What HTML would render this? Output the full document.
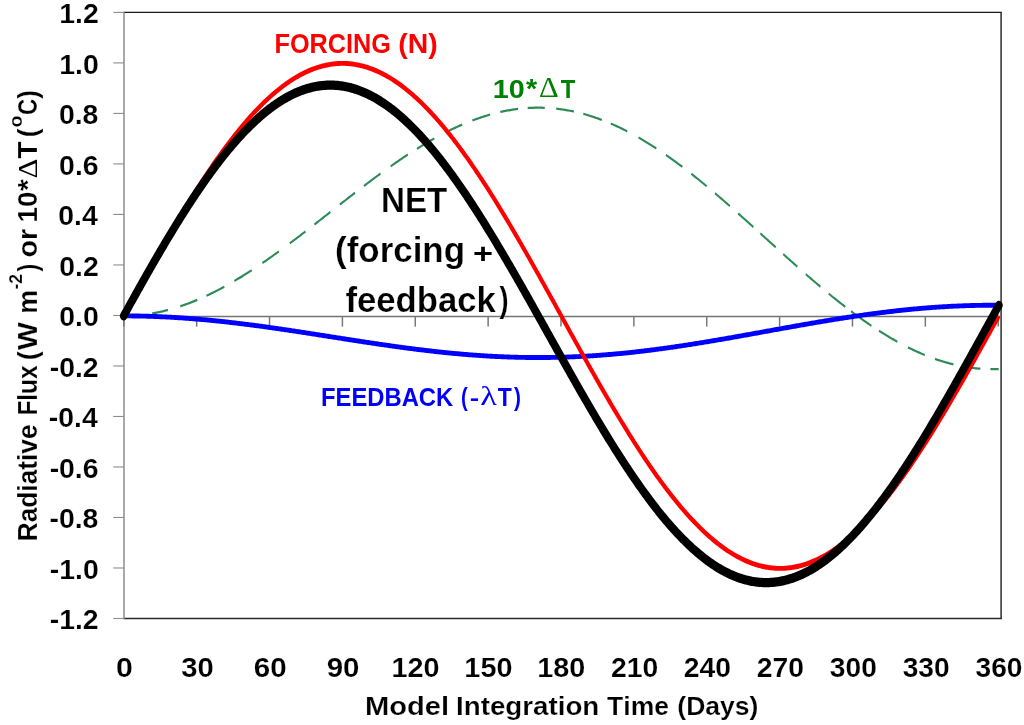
<!DOCTYPE html>
<html lang="en"><head><meta charset="utf-8"><title>Radiative Flux vs Model Integration Time</title>
<style>html,body{margin:0;padding:0;background:#fff;overflow:hidden}svg text{white-space:pre;font-kerning:none}</style></head>
<body>
<svg width="1024" height="725" viewBox="0 0 1024 725" style="display:block">
<rect width="1024" height="725" fill="#fff"/>
<line x1="123.4" y1="12.4" x2="1001.9" y2="12.4" stroke="#1a1a1a" stroke-width="1.3"/>
<line x1="1001.1" y1="12.4" x2="1001.1" y2="618.5" stroke="#3a3a3a" stroke-width="1.6"/>
<line x1="123.4" y1="618.5" x2="1001.9" y2="618.5" stroke="#2a2a2a" stroke-width="1.5"/>
<line x1="124.0" y1="12.4" x2="124.0" y2="618.5" stroke="#a0a0a0" stroke-width="1.8"/>
<line x1="113.3" y1="12.40" x2="124.0" y2="12.40" stroke="#8c8c8c" stroke-width="1.1"/>
<line x1="113.3" y1="62.91" x2="124.0" y2="62.91" stroke="#8c8c8c" stroke-width="1.1"/>
<line x1="113.3" y1="113.42" x2="124.0" y2="113.42" stroke="#8c8c8c" stroke-width="1.1"/>
<line x1="113.3" y1="163.93" x2="124.0" y2="163.93" stroke="#8c8c8c" stroke-width="1.1"/>
<line x1="113.3" y1="214.43" x2="124.0" y2="214.43" stroke="#8c8c8c" stroke-width="1.1"/>
<line x1="113.3" y1="264.94" x2="124.0" y2="264.94" stroke="#8c8c8c" stroke-width="1.1"/>
<line x1="113.3" y1="315.45" x2="124.0" y2="315.45" stroke="#8c8c8c" stroke-width="1.1"/>
<line x1="113.3" y1="365.96" x2="124.0" y2="365.96" stroke="#8c8c8c" stroke-width="1.1"/>
<line x1="113.3" y1="416.47" x2="124.0" y2="416.47" stroke="#8c8c8c" stroke-width="1.1"/>
<line x1="113.3" y1="466.98" x2="124.0" y2="466.98" stroke="#8c8c8c" stroke-width="1.1"/>
<line x1="113.3" y1="517.48" x2="124.0" y2="517.48" stroke="#8c8c8c" stroke-width="1.1"/>
<line x1="113.3" y1="567.99" x2="124.0" y2="567.99" stroke="#8c8c8c" stroke-width="1.1"/>
<line x1="113.3" y1="618.50" x2="124.0" y2="618.50" stroke="#8c8c8c" stroke-width="1.1"/>
<line x1="124.0" y1="316.5" x2="1001.1" y2="316.5" stroke="#747474" stroke-width="1.7"/>
<line x1="123.80" y1="316.5" x2="123.80" y2="326.6" stroke="#787878" stroke-width="1.5"/>
<line x1="196.67" y1="316.5" x2="196.67" y2="326.6" stroke="#787878" stroke-width="1.5"/>
<line x1="269.53" y1="316.5" x2="269.53" y2="326.6" stroke="#787878" stroke-width="1.5"/>
<line x1="342.40" y1="316.5" x2="342.40" y2="326.6" stroke="#787878" stroke-width="1.5"/>
<line x1="415.27" y1="316.5" x2="415.27" y2="326.6" stroke="#787878" stroke-width="1.5"/>
<line x1="488.13" y1="316.5" x2="488.13" y2="326.6" stroke="#787878" stroke-width="1.5"/>
<line x1="561.00" y1="316.5" x2="561.00" y2="326.6" stroke="#787878" stroke-width="1.5"/>
<line x1="633.87" y1="316.5" x2="633.87" y2="326.6" stroke="#787878" stroke-width="1.5"/>
<line x1="706.73" y1="316.5" x2="706.73" y2="326.6" stroke="#787878" stroke-width="1.5"/>
<line x1="779.60" y1="316.5" x2="779.60" y2="326.6" stroke="#787878" stroke-width="1.5"/>
<line x1="852.47" y1="316.5" x2="852.47" y2="326.6" stroke="#787878" stroke-width="1.5"/>
<line x1="925.33" y1="316.5" x2="925.33" y2="326.6" stroke="#787878" stroke-width="1.5"/>
<line x1="998.20" y1="316.5" x2="998.20" y2="326.6" stroke="#787878" stroke-width="1.5"/>
<g transform="scale(1,1.25)" fill="none" stroke-linejoin="round">
<path d="M124.50,252.72 L124.92,252.72 L126.13,252.71 L127.35,252.69 L128.56,252.66 L129.78,252.63 L130.99,252.59 L132.21,252.54 L133.42,252.49 L134.64,252.43 L135.86,252.36 L137.07,252.28 L138.29,252.20 L139.50,252.11 L140.00,252.07 M152.10,250.75 L152.87,250.64 L154.09,250.47 L155.30,250.28 L156.52,250.10 L157.74,249.90 L158.95,249.70 L160.17,249.49 L161.38,249.27 L162.60,249.05 L163.81,248.82 L165.03,248.58 L166.24,248.33 L167.46,248.08 L168.00,247.97 M180.30,245.03 L180.83,244.89 L182.05,244.56 L183.26,244.22 L184.48,243.88 L185.69,243.53 L186.91,243.17 L188.12,242.81 L189.34,242.44 L190.56,242.07 L191.77,241.69 L192.99,241.31 L194.20,240.91 L195.42,240.52 L196.63,240.11 L197.30,239.89 M206.40,236.65 L207.57,236.21 L208.79,235.75 L210.00,235.28 L211.22,234.81 L212.44,234.33 L213.65,233.84 L214.87,233.35 L216.08,232.86 L217.30,232.36 L218.51,231.85 L219.73,231.34 L220.94,230.83 L222.16,230.30 L223.38,229.78 L224.30,229.37 M234.40,224.78 L235.53,224.24 L236.75,223.66 L237.96,223.08 L239.18,222.49 L240.39,221.90 L241.61,221.30 L242.82,220.70 L244.04,220.09 L245.26,219.48 L246.47,218.87 L247.69,218.25 L248.90,217.63 L250.12,217.00 L251.33,216.37 L251.70,216.18 M262.40,210.46 L263.49,209.86 L264.70,209.19 L265.92,208.52 L267.14,207.84 L268.35,207.16 L269.57,206.48 L270.78,205.79 L272.00,205.10 L273.21,204.41 L274.43,203.71 L275.64,203.01 L276.86,202.31 L278.08,201.61 L278.90,201.13 M289.80,194.69 L290.23,194.44 L291.45,193.71 L292.66,192.97 L293.88,192.24 L295.09,191.50 L296.31,190.77 L297.52,190.03 L298.74,189.29 L299.96,188.54 L301.17,187.80 L302.39,187.05 L303.60,186.31 L304.82,185.56 L305.50,185.14 M314.40,179.62 L314.54,179.53 L315.76,178.77 L316.97,178.01 L318.19,177.25 L319.40,176.49 L320.62,175.73 L321.84,174.97 L323.05,174.21 L324.27,173.45 L325.48,172.68 L326.70,171.92 L327.91,171.16 L329.13,170.39 L330.34,169.63 L330.40,169.60 M339.80,163.70 L340.07,163.53 L341.28,162.77 L342.50,162.01 L343.72,161.25 L344.93,160.49 L346.15,159.73 L347.36,158.97 L348.58,158.22 L349.79,157.46 L351.01,156.71 L352.22,155.95 L353.44,155.20 L354.66,154.45 L355.10,154.18 M363.90,148.78 L364.38,148.49 L365.60,147.75 L366.81,147.02 L368.03,146.28 L369.24,145.55 L370.46,144.82 L371.67,144.09 L372.89,143.37 L374.10,142.64 L375.32,141.92 L376.54,141.20 L377.75,140.49 L378.97,139.77 L380.18,139.06 L380.50,138.87 M390.60,133.07 L391.12,132.77 L392.34,132.09 L393.55,131.41 L394.77,130.73 L395.98,130.06 L397.20,129.38 L398.42,128.72 L399.63,128.05 L400.85,127.39 L402.06,126.73 L403.28,126.08 L404.49,125.43 L405.71,124.78 L406.92,124.14 L407.80,123.68 M417.00,118.96 L417.86,118.53 L419.08,117.93 L420.30,117.33 L421.51,116.74 L422.73,116.15 L423.94,115.56 L425.16,114.98 L426.37,114.40 L427.59,113.83 L428.80,113.26 L430.02,112.70 L431.24,112.15 L432.45,111.59 L433.67,111.04 L434.30,110.76 M445.70,105.89 L445.82,105.84 L447.04,105.35 L448.25,104.87 L449.47,104.38 L450.68,103.91 L451.90,103.44 L453.12,102.98 L454.33,102.52 L455.55,102.06 L456.76,101.62 L457.98,101.17 L459.19,100.74 L460.41,100.31 L461.62,99.88 L462.20,99.69 M472.40,96.38 L472.56,96.33 L473.78,95.97 L475.00,95.61 L476.21,95.26 L477.43,94.91 L478.64,94.57 L479.86,94.24 L481.07,93.91 L482.29,93.59 L483.50,93.28 L484.72,92.97 L485.94,92.67 L487.15,92.38 L488.37,92.09 L489.58,91.81 L490.10,91.69 M500.30,89.61 L500.52,89.57 L501.74,89.36 L502.95,89.15 L504.17,88.95 L505.38,88.75 L506.60,88.57 L507.82,88.39 L509.03,88.21 L510.25,88.05 L511.46,87.89 L512.68,87.73 L513.89,87.59 L515.11,87.45 L516.32,87.32 L517.54,87.19 L518.10,87.14 M527.70,86.43 L528.48,86.39 L529.70,86.33 L530.91,86.29 L532.13,86.25 L533.34,86.22 L534.56,86.19 L535.77,86.17 L536.99,86.16 L538.20,86.16 L539.42,86.16 L540.64,86.17 L541.85,86.19 L543.07,86.22 L544.28,86.25 L544.80,86.26 M556.20,86.95 L556.44,86.97 L557.65,87.08 L558.87,87.20 L560.08,87.32 L561.30,87.46 L562.52,87.60 L563.73,87.74 L564.95,87.90 L566.16,88.06 L567.38,88.23 L568.59,88.40 L569.81,88.59 L571.02,88.78 L572.24,88.98 L573.46,89.18 L573.90,89.26 M583.30,91.10 L584.40,91.34 L585.61,91.61 L586.83,91.89 L588.04,92.18 L589.26,92.48 L590.47,92.78 L591.69,93.09 L592.90,93.41 L594.12,93.73 L595.34,94.06 L596.55,94.39 L597.77,94.74 L598.98,95.09 L600.20,95.45 L601.41,95.81 L601.90,95.96 M610.80,98.84 L611.14,98.96 L612.35,99.38 L613.57,99.81 L614.78,100.24 L616.00,100.69 L617.22,101.13 L618.43,101.59 L619.65,102.05 L620.86,102.52 L622.08,102.99 L623.29,103.47 L624.51,103.96 L625.72,104.45 L626.94,104.95 L627.30,105.10 M638.50,109.98 L639.10,110.26 L640.31,110.82 L641.53,111.39 L642.74,111.96 L643.96,112.54 L645.17,113.13 L646.39,113.72 L647.60,114.32 L648.82,114.92 L650.04,115.53 L651.25,116.14 L652.47,116.76 L653.68,117.38 L654.90,118.01 L656.11,118.64 L656.30,118.74 M665.90,123.93 L667.05,124.57 L668.27,125.26 L669.48,125.94 L670.70,126.64 L671.92,127.33 L673.13,128.04 L674.35,128.74 L675.56,129.45 L676.78,130.17 L677.99,130.89 L679.21,131.61 L680.42,132.34 L681.64,133.07 L682.40,133.53 M691.30,139.03 L691.36,139.07 L692.58,139.84 L693.80,140.61 L695.01,141.38 L696.23,142.16 L697.44,142.94 L698.66,143.72 L699.87,144.51 L701.09,145.30 L702.30,146.10 L703.52,146.90 L704.74,147.70 L705.95,148.50 L706.70,149.00 M715.00,154.58 L715.68,155.04 L716.89,155.87 L718.11,156.70 L719.32,157.53 L720.54,158.37 L721.75,159.21 L722.97,160.05 L724.18,160.90 L725.40,161.74 L726.62,162.59 L727.83,163.44 L729.05,164.29 L729.90,164.89 M738.20,170.76 L738.77,171.17 L739.99,172.03 L741.20,172.90 L742.42,173.77 L743.63,174.64 L744.85,175.51 L746.06,176.39 L747.28,177.26 L748.50,178.14 L749.71,179.01 L750.93,179.89 L752.14,180.77 L753.36,181.64 L753.40,181.67 M760.30,186.67 L760.65,186.92 L761.87,187.81 L763.08,188.69 L764.30,189.57 L765.51,190.45 L766.73,191.33 L767.94,192.22 L769.16,193.10 L770.38,193.98 L771.59,194.86 L772.81,195.74 L774.02,196.62 L775.24,197.50 L775.70,197.84 M783.20,203.26 L783.75,203.65 L784.96,204.52 L786.18,205.40 L787.39,206.27 L788.61,207.14 L789.82,208.01 L791.04,208.88 L792.26,209.75 L793.47,210.62 L794.69,211.48 L795.90,212.35 L797.12,213.21 L797.30,213.34 M805.80,219.32 L806.84,220.04 L808.06,220.89 L809.27,221.73 L810.49,222.57 L811.70,223.41 L812.92,224.25 L814.14,225.08 L815.35,225.92 L816.57,226.75 L817.78,227.57 L819.00,228.40 L820.21,229.22 L820.40,229.34 M828.70,234.87 L828.72,234.89 L829.94,235.69 L831.15,236.48 L832.37,237.27 L833.58,238.06 L834.80,238.85 L836.02,239.63 L837.23,240.40 L838.45,241.18 L839.66,241.95 L840.88,242.72 L842.09,243.48 L843.31,244.24 L844.52,244.99 L845.30,245.47 M851.00,248.95 L851.82,249.44 L853.03,250.17 L854.25,250.90 L855.46,251.61 L856.68,252.33 L857.90,253.04 L859.11,253.74 L860.33,254.45 L861.54,255.14 L862.76,255.83 L863.97,256.52 L865.19,257.20 L866.40,257.88 L867.62,258.56 L868.84,259.22 L870.05,259.89 L871.27,260.55 L871.50,260.67 M879.00,264.62 L879.78,265.01 L880.99,265.63 L882.21,266.24 L883.42,266.85 L884.64,267.45 L885.85,268.05 L887.07,268.64 L888.28,269.22 L889.50,269.80 L890.72,270.37 L891.93,270.94 L893.15,271.50 L894.36,272.06 L895.58,272.61 L896.79,273.16 L897.40,273.43 M908.00,277.90 L908.95,278.28 L910.16,278.75 L911.38,279.23 L912.60,279.69 L913.81,280.15 L915.03,280.60 L916.24,281.05 L917.46,281.49 L918.67,281.93 L919.89,282.35 L921.10,282.77 L922.32,283.19 L923.54,283.60 L924.75,284.00 L924.80,284.01 M935.00,287.11 L935.69,287.31 L936.91,287.64 L938.12,287.97 L939.34,288.29 L940.55,288.60 L941.77,288.91 L942.98,289.21 L944.20,289.50 L945.42,289.79 L946.63,290.07 L947.85,290.34 L949.06,290.60 L950.28,290.86 L951.49,291.11 L952.71,291.35 L953.40,291.49 M963.00,293.13 L963.65,293.22 L964.86,293.40 L966.08,293.56 L967.30,293.72 L968.51,293.87 L969.73,294.01 L970.94,294.15 L972.16,294.28 L973.37,294.40 L974.59,294.51 L975.80,294.62 L977.02,294.72 L978.24,294.81 L979.45,294.90 L980.40,294.96 M990.40,295.33 L991.61,295.35 L992.82,295.35 L994.04,295.35 L995.25,295.34 L996.47,295.32 L997.68,295.30 L998.70,295.27" stroke="#2e8b57" stroke-width="1.8"/>
<path d="M123.70,252.72 L124.92,252.72 L126.13,252.72 L127.35,252.73 L128.56,252.73 L129.78,252.74 L130.99,252.75 L132.21,252.76 L133.42,252.77 L134.64,252.78 L135.86,252.79 L137.07,252.81 L138.29,252.82 L139.50,252.84 L140.72,252.86 L141.93,252.88 L143.15,252.91 L144.36,252.93 L145.58,252.95 L146.80,252.98 L148.01,253.01 L149.23,253.04 L150.44,253.07 L151.66,253.10 L152.87,253.14 L154.09,253.17 L155.30,253.21 L156.52,253.24 L157.74,253.28 L158.95,253.32 L160.17,253.37 L161.38,253.41 L162.60,253.45 L163.81,253.50 L165.03,253.55 L166.24,253.60 L167.46,253.65 L168.68,253.70 L169.89,253.75 L171.11,253.81 L172.32,253.86 L173.54,253.92 L174.75,253.98 L175.97,254.04 L177.18,254.10 L178.40,254.16 L179.62,254.22 L180.83,254.29 L182.05,254.35 L183.26,254.42 L184.48,254.49 L185.69,254.56 L186.91,254.63 L188.12,254.70 L189.34,254.78 L190.56,254.85 L191.77,254.93 L192.99,255.00 L194.20,255.08 L195.42,255.16 L196.63,255.24 L197.85,255.32 L199.06,255.41 L200.28,255.49 L201.50,255.58 L202.71,255.66 L203.93,255.75 L205.14,255.84 L206.36,255.93 L207.57,256.02 L208.79,256.11 L210.00,256.21 L211.22,256.30 L212.44,256.40 L213.65,256.50 L214.87,256.59 L216.08,256.69 L217.30,256.79 L218.51,256.89 L219.73,257.00 L220.94,257.10 L222.16,257.20 L223.38,257.31 L224.59,257.41 L225.81,257.52 L227.02,257.63 L228.24,257.74 L229.45,257.85 L230.67,257.96 L231.88,258.07 L233.10,258.19 L234.32,258.30 L235.53,258.42 L236.75,258.53 L237.96,258.65 L239.18,258.77 L240.39,258.88 L241.61,259.00 L242.82,259.12 L244.04,259.25 L245.26,259.37 L246.47,259.49 L247.69,259.61 L248.90,259.74 L250.12,259.86 L251.33,259.99 L252.55,260.12 L253.76,260.24 L254.98,260.37 L256.20,260.50 L257.41,260.63 L258.63,260.76 L259.84,260.89 L261.06,261.03 L262.27,261.16 L263.49,261.29 L264.70,261.43 L265.92,261.56 L267.14,261.70 L268.35,261.83 L269.57,261.97 L270.78,262.11 L272.00,262.24 L273.21,262.38 L274.43,262.52 L275.64,262.66 L276.86,262.80 L278.08,262.94 L279.29,263.08 L280.51,263.23 L281.72,263.37 L282.94,263.51 L284.15,263.65 L285.37,263.80 L286.58,263.94 L287.80,264.09 L289.02,264.23 L290.23,264.38 L291.45,264.52 L292.66,264.67 L293.88,264.82 L295.09,264.96 L296.31,265.11 L297.52,265.26 L298.74,265.41 L299.96,265.56 L301.17,265.70 L302.39,265.85 L303.60,266.00 L304.82,266.15 L306.03,266.30 L307.25,266.45 L308.46,266.60 L309.68,266.75 L310.90,266.90 L312.11,267.06 L313.33,267.21 L314.54,267.36 L315.76,267.51 L316.97,267.66 L318.19,267.81 L319.40,267.97 L320.62,268.12 L321.84,268.27 L323.05,268.42 L324.27,268.57 L325.48,268.73 L326.70,268.88 L327.91,269.03 L329.13,269.19 L330.34,269.34 L331.56,269.49 L332.78,269.64 L333.99,269.80 L335.21,269.95 L336.42,270.10 L337.64,270.25 L338.85,270.41 L340.07,270.56 L341.28,270.71 L342.50,270.86 L343.72,271.01 L344.93,271.17 L346.15,271.32 L347.36,271.47 L348.58,271.62 L349.79,271.77 L351.01,271.92 L352.22,272.07 L353.44,272.22 L354.66,272.37 L355.87,272.52 L357.09,272.67 L358.30,272.82 L359.52,272.97 L360.73,273.12 L361.95,273.27 L363.16,273.42 L364.38,273.57 L365.60,273.71 L366.81,273.86 L368.03,274.01 L369.24,274.15 L370.46,274.30 L371.67,274.45 L372.89,274.59 L374.10,274.74 L375.32,274.88 L376.54,275.02 L377.75,275.17 L378.97,275.31 L380.18,275.45 L381.40,275.59 L382.61,275.74 L383.83,275.88 L385.04,276.02 L386.26,276.16 L387.48,276.30 L388.69,276.43 L389.91,276.57 L391.12,276.71 L392.34,276.85 L393.55,276.98 L394.77,277.12 L395.98,277.25 L397.20,277.39 L398.42,277.52 L399.63,277.65 L400.85,277.79 L402.06,277.92 L403.28,278.05 L404.49,278.18 L405.71,278.31 L406.92,278.44 L408.14,278.56 L409.36,278.69 L410.57,278.82 L411.79,278.94 L413.00,279.07 L414.22,279.19 L415.43,279.31 L416.65,279.44 L417.86,279.56 L419.08,279.68 L420.30,279.80 L421.51,279.92 L422.73,280.03 L423.94,280.15 L425.16,280.27 L426.37,280.38 L427.59,280.50 L428.80,280.61 L430.02,280.72 L431.24,280.83 L432.45,280.95 L433.67,281.06 L434.88,281.16 L436.10,281.27 L437.31,281.38 L438.53,281.48 L439.74,281.59 L440.96,281.69 L442.18,281.79 L443.39,281.90 L444.61,282.00 L445.82,282.10 L447.04,282.19 L448.25,282.29 L449.47,282.39 L450.68,282.48 L451.90,282.58 L453.12,282.67 L454.33,282.76 L455.55,282.85 L456.76,282.94 L457.98,283.03 L459.19,283.12 L460.41,283.20 L461.62,283.29 L462.84,283.37 L464.06,283.45 L465.27,283.53 L466.49,283.62 L467.70,283.69 L468.92,283.77 L470.13,283.85 L471.35,283.92 L472.56,284.00 L473.78,284.07 L475.00,284.14 L476.21,284.21 L477.43,284.28 L478.64,284.35 L479.86,284.42 L481.07,284.48 L482.29,284.55 L483.50,284.61 L484.72,284.67 L485.94,284.73 L487.15,284.79 L488.37,284.85 L489.58,284.90 L490.80,284.96 L492.01,285.01 L493.23,285.06 L494.44,285.11 L495.66,285.16 L496.88,285.21 L498.09,285.26 L499.31,285.31 L500.52,285.35 L501.74,285.39 L502.95,285.43 L504.17,285.47 L505.38,285.51 L506.60,285.55 L507.82,285.59 L509.03,285.62 L510.25,285.65 L511.46,285.69 L512.68,285.72 L513.89,285.75 L515.11,285.77 L516.32,285.80 L517.54,285.83 L518.76,285.85 L519.97,285.87 L521.19,285.89 L522.40,285.91 L523.62,285.93 L524.83,285.95 L526.05,285.96 L527.26,285.97 L528.48,285.99 L529.70,286.00 L530.91,286.01 L532.13,286.01 L533.34,286.02 L534.56,286.03 L535.77,286.03 L536.99,286.03 L538.20,286.03 L539.42,286.03 L540.64,286.03 L541.85,286.03 L543.07,286.02 L544.28,286.01 L545.50,286.01 L546.71,286.00 L547.93,285.99 L549.14,285.97 L550.36,285.96 L551.58,285.95 L552.79,285.93 L554.01,285.91 L555.22,285.89 L556.44,285.87 L557.65,285.85 L558.87,285.82 L560.08,285.80 L561.30,285.77 L562.52,285.74 L563.73,285.72 L564.95,285.68 L566.16,285.65 L567.38,285.62 L568.59,285.58 L569.81,285.55 L571.02,285.51 L572.24,285.47 L573.46,285.43 L574.67,285.39 L575.89,285.34 L577.10,285.30 L578.32,285.25 L579.53,285.20 L580.75,285.15 L581.96,285.10 L583.18,285.05 L584.40,285.00 L585.61,284.94 L586.83,284.89 L588.04,284.83 L589.26,284.77 L590.47,284.71 L591.69,284.65 L592.90,284.58 L594.12,284.52 L595.34,284.45 L596.55,284.39 L597.77,284.32 L598.98,284.25 L600.20,284.17 L601.41,284.10 L602.63,284.03 L603.84,283.95 L605.06,283.88 L606.28,283.80 L607.49,283.72 L608.71,283.64 L609.92,283.56 L611.14,283.47 L612.35,283.39 L613.57,283.30 L614.78,283.22 L616.00,283.13 L617.22,283.04 L618.43,282.95 L619.65,282.85 L620.86,282.76 L622.08,282.67 L623.29,282.57 L624.51,282.47 L625.72,282.37 L626.94,282.27 L628.16,282.17 L629.37,282.07 L630.59,281.97 L631.80,281.86 L633.02,281.76 L634.23,281.65 L635.45,281.54 L636.66,281.43 L637.88,281.32 L639.10,281.21 L640.31,281.10 L641.53,280.99 L642.74,280.87 L643.96,280.76 L645.17,280.64 L646.39,280.52 L647.60,280.40 L648.82,280.28 L650.04,280.16 L651.25,280.04 L652.47,279.91 L653.68,279.79 L654.90,279.66 L656.11,279.54 L657.33,279.41 L658.54,279.28 L659.76,279.15 L660.98,279.02 L662.19,278.89 L663.41,278.75 L664.62,278.62 L665.84,278.48 L667.05,278.35 L668.27,278.21 L669.48,278.08 L670.70,277.94 L671.92,277.80 L673.13,277.66 L674.35,277.52 L675.56,277.37 L676.78,277.23 L677.99,277.09 L679.21,276.94 L680.42,276.80 L681.64,276.65 L682.86,276.50 L684.07,276.35 L685.29,276.21 L686.50,276.06 L687.72,275.91 L688.93,275.75 L690.15,275.60 L691.36,275.45 L692.58,275.30 L693.80,275.14 L695.01,274.99 L696.23,274.83 L697.44,274.68 L698.66,274.52 L699.87,274.36 L701.09,274.20 L702.30,274.04 L703.52,273.88 L704.74,273.72 L705.95,273.56 L707.17,273.40 L708.38,273.24 L709.60,273.08 L710.81,272.91 L712.03,272.75 L713.24,272.59 L714.46,272.42 L715.68,272.26 L716.89,272.09 L718.11,271.92 L719.32,271.76 L720.54,271.59 L721.75,271.42 L722.97,271.25 L724.18,271.08 L725.40,270.92 L726.62,270.75 L727.83,270.58 L729.05,270.41 L730.26,270.24 L731.48,270.06 L732.69,269.89 L733.91,269.72 L735.12,269.55 L736.34,269.38 L737.56,269.20 L738.77,269.03 L739.99,268.86 L741.20,268.68 L742.42,268.51 L743.63,268.34 L744.85,268.16 L746.06,267.99 L747.28,267.81 L748.50,267.64 L749.71,267.46 L750.93,267.29 L752.14,267.11 L753.36,266.94 L754.57,266.76 L755.79,266.58 L757.00,266.41 L758.22,266.23 L759.44,266.06 L760.65,265.88 L761.87,265.70 L763.08,265.53 L764.30,265.35 L765.51,265.17 L766.73,265.00 L767.94,264.82 L769.16,264.64 L770.38,264.47 L771.59,264.29 L772.81,264.12 L774.02,263.94 L775.24,263.76 L776.45,263.59 L777.67,263.41 L778.88,263.24 L780.10,263.06 L781.32,262.88 L782.53,262.71 L783.75,262.53 L784.96,262.36 L786.18,262.18 L787.39,262.01 L788.61,261.84 L789.82,261.66 L791.04,261.49 L792.26,261.31 L793.47,261.14 L794.69,260.97 L795.90,260.79 L797.12,260.62 L798.33,260.45 L799.55,260.28 L800.76,260.11 L801.98,259.94 L803.20,259.77 L804.41,259.59 L805.63,259.42 L806.84,259.26 L808.06,259.09 L809.27,258.92 L810.49,258.75 L811.70,258.58 L812.92,258.41 L814.14,258.25 L815.35,258.08 L816.57,257.91 L817.78,257.75 L819.00,257.58 L820.21,257.42 L821.43,257.26 L822.64,257.09 L823.86,256.93 L825.08,256.77 L826.29,256.61 L827.51,256.45 L828.72,256.29 L829.94,256.13 L831.15,255.97 L832.37,255.81 L833.58,255.65 L834.80,255.49 L836.02,255.34 L837.23,255.18 L838.45,255.03 L839.66,254.87 L840.88,254.72 L842.09,254.57 L843.31,254.42 L844.52,254.27 L845.74,254.11 L846.96,253.97 L848.17,253.82 L849.39,253.67 L850.60,253.52 L851.82,253.38 L853.03,253.23 L854.25,253.08 L855.46,252.94 L856.68,252.80 L857.90,252.66 L859.11,252.52 L860.33,252.37 L861.54,252.24 L862.76,252.10 L863.97,251.96 L865.19,251.82 L866.40,251.69 L867.62,251.55 L868.84,251.42 L870.05,251.29 L871.27,251.15 L872.48,251.02 L873.70,250.89 L874.91,250.77 L876.13,250.64 L877.34,250.51 L878.56,250.39 L879.78,250.26 L880.99,250.14 L882.21,250.02 L883.42,249.89 L884.64,249.77 L885.85,249.65 L887.07,249.54 L888.28,249.42 L889.50,249.30 L890.72,249.19 L891.93,249.08 L893.15,248.96 L894.36,248.85 L895.58,248.74 L896.79,248.63 L898.01,248.52 L899.22,248.42 L900.44,248.31 L901.66,248.21 L902.87,248.11 L904.09,248.00 L905.30,247.90 L906.52,247.80 L907.73,247.71 L908.95,247.61 L910.16,247.51 L911.38,247.42 L912.60,247.33 L913.81,247.23 L915.03,247.14 L916.24,247.05 L917.46,246.97 L918.67,246.88 L919.89,246.79 L921.10,246.71 L922.32,246.63 L923.54,246.54 L924.75,246.46 L925.97,246.39 L927.18,246.31 L928.40,246.23 L929.61,246.16 L930.83,246.08 L932.04,246.01 L933.26,245.94 L934.48,245.87 L935.69,245.80 L936.91,245.74 L938.12,245.67 L939.34,245.61 L940.55,245.54 L941.77,245.48 L942.98,245.42 L944.20,245.36 L945.42,245.31 L946.63,245.25 L947.85,245.20 L949.06,245.14 L950.28,245.09 L951.49,245.04 L952.71,244.99 L953.92,244.95 L955.14,244.90 L956.36,244.86 L957.57,244.81 L958.79,244.77 L960.00,244.73 L961.22,244.69 L962.43,244.65 L963.65,244.62 L964.86,244.58 L966.08,244.55 L967.30,244.52 L968.51,244.49 L969.73,244.46 L970.94,244.43 L972.16,244.41 L973.37,244.38 L974.59,244.36 L975.80,244.34 L977.02,244.32 L978.24,244.30 L979.45,244.28 L980.67,244.27 L981.88,244.26 L983.10,244.24 L984.31,244.23 L985.53,244.22 L986.74,244.21 L987.96,244.21 L989.18,244.20 L990.39,244.20 L991.61,244.19 L992.82,244.19 L994.04,244.19 L995.25,244.20 L996.47,244.20 L997.68,244.20 L998.90,244.21" stroke="#0000ff" stroke-width="3.9"/>
<path d="M123.70,252.72 L124.92,250.96 L126.13,249.19 L127.35,247.43 L128.56,245.67 L129.78,243.91 L130.99,242.15 L132.21,240.39 L133.42,238.63 L134.64,236.87 L135.86,235.11 L137.07,233.36 L138.29,231.61 L139.50,229.85 L140.72,228.10 L141.93,226.35 L143.15,224.61 L144.36,222.86 L145.58,221.12 L146.80,219.38 L148.01,217.64 L149.23,215.91 L150.44,214.18 L151.66,212.45 L152.87,210.72 L154.09,209.00 L155.30,207.28 L156.52,205.56 L157.74,203.85 L158.95,202.14 L160.17,200.44 L161.38,198.74 L162.60,197.04 L163.81,195.35 L165.03,193.66 L166.24,191.98 L167.46,190.30 L168.68,188.62 L169.89,186.96 L171.11,185.29 L172.32,183.63 L173.54,181.98 L174.75,180.33 L175.97,178.69 L177.18,177.05 L178.40,175.42 L179.62,173.79 L180.83,172.17 L182.05,170.56 L183.26,168.95 L184.48,167.35 L185.69,165.76 L186.91,164.17 L188.12,162.59 L189.34,161.01 L190.56,159.45 L191.77,157.89 L192.99,156.33 L194.20,154.79 L195.42,153.25 L196.63,151.72 L197.85,150.20 L199.06,148.68 L200.28,147.18 L201.50,145.68 L202.71,144.19 L203.93,142.70 L205.14,141.23 L206.36,139.76 L207.57,138.31 L208.79,136.86 L210.00,135.42 L211.22,133.99 L212.44,132.57 L213.65,131.15 L214.87,129.75 L216.08,128.36 L217.30,126.97 L218.51,125.60 L219.73,124.23 L220.94,122.88 L222.16,121.53 L223.38,120.20 L224.59,118.87 L225.81,117.56 L227.02,116.25 L228.24,114.96 L229.45,113.67 L230.67,112.40 L231.88,111.14 L233.10,109.88 L234.32,108.64 L235.53,107.41 L236.75,106.19 L237.96,104.99 L239.18,103.79 L240.39,102.60 L241.61,101.43 L242.82,100.27 L244.04,99.12 L245.26,97.98 L246.47,96.85 L247.69,95.74 L248.90,94.63 L250.12,93.54 L251.33,92.46 L252.55,91.40 L253.76,90.34 L254.98,89.30 L256.20,88.27 L257.41,87.25 L258.63,86.25 L259.84,85.25 L261.06,84.28 L262.27,83.31 L263.49,82.35 L264.70,81.41 L265.92,80.49 L267.14,79.57 L268.35,78.67 L269.57,77.78 L270.78,76.91 L272.00,76.05 L273.21,75.20 L274.43,74.36 L275.64,73.54 L276.86,72.74 L278.08,71.94 L279.29,71.16 L280.51,70.40 L281.72,69.65 L282.94,68.91 L284.15,68.18 L285.37,67.47 L286.58,66.78 L287.80,66.10 L289.02,65.43 L290.23,64.78 L291.45,64.14 L292.66,63.51 L293.88,62.90 L295.09,62.31 L296.31,61.73 L297.52,61.16 L298.74,60.61 L299.96,60.07 L301.17,59.55 L302.39,59.04 L303.60,58.55 L304.82,58.07 L306.03,57.60 L307.25,57.15 L308.46,56.72 L309.68,56.30 L310.90,55.90 L312.11,55.51 L313.33,55.13 L314.54,54.78 L315.76,54.43 L316.97,54.10 L318.19,53.79 L319.40,53.49 L320.62,53.21 L321.84,52.94 L323.05,52.69 L324.27,52.45 L325.48,52.23 L326.70,52.02 L327.91,51.83 L329.13,51.65 L330.34,51.49 L331.56,51.34 L332.78,51.21 L333.99,51.10 L335.21,51.00 L336.42,50.91 L337.64,50.84 L338.85,50.79 L340.07,50.75 L341.28,50.73 L342.50,50.72 L343.72,50.73 L344.93,50.75 L346.15,50.79 L347.36,50.84 L348.58,50.91 L349.79,51.00 L351.01,51.10 L352.22,51.21 L353.44,51.34 L354.66,51.49 L355.87,51.65 L357.09,51.83 L358.30,52.02 L359.52,52.23 L360.73,52.45 L361.95,52.69 L363.16,52.94 L364.38,53.21 L365.60,53.49 L366.81,53.79 L368.03,54.10 L369.24,54.43 L370.46,54.78 L371.67,55.13 L372.89,55.51 L374.10,55.90 L375.32,56.30 L376.54,56.72 L377.75,57.15 L378.97,57.60 L380.18,58.07 L381.40,58.55 L382.61,59.04 L383.83,59.55 L385.04,60.07 L386.26,60.61 L387.48,61.16 L388.69,61.73 L389.91,62.31 L391.12,62.90 L392.34,63.51 L393.55,64.14 L394.77,64.78 L395.98,65.43 L397.20,66.10 L398.42,66.78 L399.63,67.47 L400.85,68.18 L402.06,68.91 L403.28,69.65 L404.49,70.40 L405.71,71.16 L406.92,71.94 L408.14,72.74 L409.36,73.54 L410.57,74.36 L411.79,75.20 L413.00,76.05 L414.22,76.91 L415.43,77.78 L416.65,78.67 L417.86,79.57 L419.08,80.49 L420.30,81.41 L421.51,82.35 L422.73,83.31 L423.94,84.28 L425.16,85.25 L426.37,86.25 L427.59,87.25 L428.80,88.27 L430.02,89.30 L431.24,90.34 L432.45,91.40 L433.67,92.46 L434.88,93.54 L436.10,94.63 L437.31,95.74 L438.53,96.85 L439.74,97.98 L440.96,99.12 L442.18,100.27 L443.39,101.43 L444.61,102.60 L445.82,103.79 L447.04,104.99 L448.25,106.19 L449.47,107.41 L450.68,108.64 L451.90,109.88 L453.12,111.14 L454.33,112.40 L455.55,113.67 L456.76,114.96 L457.98,116.25 L459.19,117.56 L460.41,118.87 L461.62,120.20 L462.84,121.53 L464.06,122.88 L465.27,124.23 L466.49,125.60 L467.70,126.97 L468.92,128.36 L470.13,129.75 L471.35,131.15 L472.56,132.57 L473.78,133.99 L475.00,135.42 L476.21,136.86 L477.43,138.31 L478.64,139.76 L479.86,141.23 L481.07,142.70 L482.29,144.19 L483.50,145.68 L484.72,147.18 L485.94,148.68 L487.15,150.20 L488.37,151.72 L489.58,153.25 L490.80,154.79 L492.01,156.33 L493.23,157.89 L494.44,159.45 L495.66,161.01 L496.88,162.59 L498.09,164.17 L499.31,165.76 L500.52,167.35 L501.74,168.95 L502.95,170.56 L504.17,172.17 L505.38,173.79 L506.60,175.42 L507.82,177.05 L509.03,178.69 L510.25,180.33 L511.46,181.98 L512.68,183.63 L513.89,185.29 L515.11,186.96 L516.32,188.62 L517.54,190.30 L518.76,191.98 L519.97,193.66 L521.19,195.35 L522.40,197.04 L523.62,198.74 L524.83,200.44 L526.05,202.14 L527.26,203.85 L528.48,205.56 L529.70,207.28 L530.91,209.00 L532.13,210.72 L533.34,212.45 L534.56,214.18 L535.77,215.91 L536.99,217.64 L538.20,219.38 L539.42,221.12 L540.64,222.86 L541.85,224.61 L543.07,226.35 L544.28,228.10 L545.50,229.85 L546.71,231.61 L547.93,233.36 L549.14,235.11 L550.36,236.87 L551.58,238.63 L552.79,240.39 L554.01,242.15 L555.22,243.91 L556.44,245.67 L557.65,247.43 L558.87,249.19 L560.08,250.96 L561.30,252.72 L562.52,254.48 L563.73,256.25 L564.95,258.01 L566.16,259.77 L567.38,261.53 L568.59,263.29 L569.81,265.05 L571.02,266.81 L572.24,268.57 L573.46,270.33 L574.67,272.08 L575.89,273.83 L577.10,275.59 L578.32,277.34 L579.53,279.09 L580.75,280.83 L581.96,282.58 L583.18,284.32 L584.40,286.06 L585.61,287.80 L586.83,289.53 L588.04,291.26 L589.26,292.99 L590.47,294.72 L591.69,296.44 L592.90,298.16 L594.12,299.88 L595.34,301.59 L596.55,303.30 L597.77,305.00 L598.98,306.70 L600.20,308.40 L601.41,310.09 L602.63,311.78 L603.84,313.46 L605.06,315.14 L606.28,316.82 L607.49,318.48 L608.71,320.15 L609.92,321.81 L611.14,323.46 L612.35,325.11 L613.57,326.75 L614.78,328.39 L616.00,330.02 L617.22,331.65 L618.43,333.27 L619.65,334.88 L620.86,336.49 L622.08,338.09 L623.29,339.68 L624.51,341.27 L625.72,342.85 L626.94,344.43 L628.16,345.99 L629.37,347.55 L630.59,349.11 L631.80,350.65 L633.02,352.19 L634.23,353.72 L635.45,355.24 L636.66,356.76 L637.88,358.26 L639.10,359.76 L640.31,361.25 L641.53,362.74 L642.74,364.21 L643.96,365.68 L645.17,367.13 L646.39,368.58 L647.60,370.02 L648.82,371.45 L650.04,372.87 L651.25,374.29 L652.47,375.69 L653.68,377.08 L654.90,378.47 L656.11,379.84 L657.33,381.21 L658.54,382.56 L659.76,383.91 L660.98,385.24 L662.19,386.57 L663.41,387.88 L664.62,389.19 L665.84,390.48 L667.05,391.77 L668.27,393.04 L669.48,394.30 L670.70,395.56 L671.92,396.80 L673.13,398.03 L674.35,399.25 L675.56,400.45 L676.78,401.65 L677.99,402.84 L679.21,404.01 L680.42,405.17 L681.64,406.32 L682.86,407.46 L684.07,408.59 L685.29,409.70 L686.50,410.81 L687.72,411.90 L688.93,412.98 L690.15,414.04 L691.36,415.10 L692.58,416.14 L693.80,417.17 L695.01,418.19 L696.23,419.19 L697.44,420.19 L698.66,421.16 L699.87,422.13 L701.09,423.09 L702.30,424.03 L703.52,424.95 L704.74,425.87 L705.95,426.77 L707.17,427.66 L708.38,428.53 L709.60,429.39 L710.81,430.24 L712.03,431.08 L713.24,431.90 L714.46,432.70 L715.68,433.50 L716.89,434.28 L718.11,435.04 L719.32,435.79 L720.54,436.53 L721.75,437.26 L722.97,437.97 L724.18,438.66 L725.40,439.34 L726.62,440.01 L727.83,440.66 L729.05,441.30 L730.26,441.93 L731.48,442.54 L732.69,443.13 L733.91,443.71 L735.12,444.28 L736.34,444.83 L737.56,445.37 L738.77,445.89 L739.99,446.40 L741.20,446.89 L742.42,447.37 L743.63,447.84 L744.85,448.29 L746.06,448.72 L747.28,449.14 L748.50,449.54 L749.71,449.93 L750.93,450.31 L752.14,450.66 L753.36,451.01 L754.57,451.34 L755.79,451.65 L757.00,451.95 L758.22,452.23 L759.44,452.50 L760.65,452.75 L761.87,452.99 L763.08,453.21 L764.30,453.42 L765.51,453.61 L766.73,453.79 L767.94,453.95 L769.16,454.10 L770.38,454.23 L771.59,454.34 L772.81,454.44 L774.02,454.53 L775.24,454.60 L776.45,454.65 L777.67,454.69 L778.88,454.71 L780.10,454.72 L781.32,454.71 L782.53,454.69 L783.75,454.65 L784.96,454.60 L786.18,454.53 L787.39,454.44 L788.61,454.34 L789.82,454.23 L791.04,454.10 L792.26,453.95 L793.47,453.79 L794.69,453.61 L795.90,453.42 L797.12,453.21 L798.33,452.99 L799.55,452.75 L800.76,452.50 L801.98,452.23 L803.20,451.95 L804.41,451.65 L805.63,451.34 L806.84,451.01 L808.06,450.66 L809.27,450.31 L810.49,449.93 L811.70,449.54 L812.92,449.14 L814.14,448.72 L815.35,448.29 L816.57,447.84 L817.78,447.37 L819.00,446.89 L820.21,446.40 L821.43,445.89 L822.64,445.37 L823.86,444.83 L825.08,444.28 L826.29,443.71 L827.51,443.13 L828.72,442.54 L829.94,441.93 L831.15,441.30 L832.37,440.66 L833.58,440.01 L834.80,439.34 L836.02,438.66 L837.23,437.97 L838.45,437.26 L839.66,436.53 L840.88,435.79 L842.09,435.04 L843.31,434.28 L844.52,433.50 L845.74,432.70 L846.96,431.90 L848.17,431.08 L849.39,430.24 L850.60,429.39 L851.82,428.53 L853.03,427.66 L854.25,426.77 L855.46,425.87 L856.68,424.95 L857.90,424.03 L859.11,423.09 L860.33,422.13 L861.54,421.16 L862.76,420.19 L863.97,419.19 L865.19,418.19 L866.40,417.17 L867.62,416.14 L868.84,415.10 L870.05,414.04 L871.27,412.98 L872.48,411.90 L873.70,410.81 L874.91,409.70 L876.13,408.59 L877.34,407.46 L878.56,406.32 L879.78,405.17 L880.99,404.01 L882.21,402.84 L883.42,401.65 L884.64,400.45 L885.85,399.25 L887.07,398.03 L888.28,396.80 L889.50,395.56 L890.72,394.30 L891.93,393.04 L893.15,391.77 L894.36,390.48 L895.58,389.19 L896.79,387.88 L898.01,386.57 L899.22,385.24 L900.44,383.91 L901.66,382.56 L902.87,381.21 L904.09,379.84 L905.30,378.47 L906.52,377.08 L907.73,375.69 L908.95,374.29 L910.16,372.87 L911.38,371.45 L912.60,370.02 L913.81,368.58 L915.03,367.13 L916.24,365.68 L917.46,364.21 L918.67,362.74 L919.89,361.25 L921.10,359.76 L922.32,358.26 L923.54,356.76 L924.75,355.24 L925.97,353.72 L927.18,352.19 L928.40,350.65 L929.61,349.11 L930.83,347.55 L932.04,345.99 L933.26,344.43 L934.48,342.85 L935.69,341.27 L936.91,339.68 L938.12,338.09 L939.34,336.49 L940.55,334.88 L941.77,333.27 L942.98,331.65 L944.20,330.02 L945.42,328.39 L946.63,326.75 L947.85,325.11 L949.06,323.46 L950.28,321.81 L951.49,320.15 L952.71,318.48 L953.92,316.82 L955.14,315.14 L956.36,313.46 L957.57,311.78 L958.79,310.09 L960.00,308.40 L961.22,306.70 L962.43,305.00 L963.65,303.30 L964.86,301.59 L966.08,299.88 L967.30,298.16 L968.51,296.44 L969.73,294.72 L970.94,292.99 L972.16,291.26 L973.37,289.53 L974.59,287.80 L975.80,286.06 L977.02,284.32 L978.24,282.58 L979.45,280.83 L980.67,279.09 L981.88,277.34 L983.10,275.59 L984.31,273.83 L985.53,272.08 L986.74,270.33 L987.96,268.57 L989.18,266.81 L990.39,265.05 L991.61,263.29 L992.82,261.53 L994.04,259.77 L995.25,258.01 L996.47,256.25 L997.68,254.48 L998.90,252.72" stroke="#ff0000" stroke-width="3.9"/>
<path d="M123.70,252.72 L124.92,250.96 L126.13,249.20 L127.35,247.44 L128.56,245.68 L129.78,243.93 L130.99,242.17 L132.21,240.42 L133.42,238.68 L134.64,236.93 L135.86,235.19 L137.07,233.45 L138.29,231.71 L139.50,229.98 L140.72,228.24 L141.93,226.52 L143.15,224.79 L144.36,223.07 L145.58,221.35 L146.80,219.64 L148.01,217.93 L149.23,216.23 L150.44,214.53 L151.66,212.83 L152.87,211.14 L154.09,209.45 L155.30,207.77 L156.52,206.09 L157.74,204.42 L158.95,202.75 L160.17,201.09 L161.38,199.43 L162.60,197.78 L163.81,196.13 L165.03,194.49 L166.24,192.85 L167.46,191.23 L168.68,189.60 L169.89,187.99 L171.11,186.38 L172.32,184.77 L173.54,183.18 L174.75,181.59 L175.97,180.00 L177.18,178.43 L178.40,176.86 L179.62,175.29 L180.83,173.74 L182.05,172.19 L183.26,170.65 L184.48,169.12 L185.69,167.60 L186.91,166.08 L188.12,164.57 L189.34,163.07 L190.56,161.58 L191.77,160.09 L192.99,158.62 L194.20,157.15 L195.42,155.69 L196.63,154.24 L197.85,152.80 L199.06,151.37 L200.28,149.95 L201.50,148.53 L202.71,147.13 L203.93,145.73 L205.14,144.35 L206.36,142.97 L207.57,141.61 L208.79,140.25 L210.00,138.91 L211.22,137.57 L212.44,136.24 L213.65,134.93 L214.87,133.62 L216.08,132.33 L217.30,131.04 L218.51,129.77 L219.73,128.51 L220.94,127.26 L222.16,126.01 L223.38,124.78 L224.59,123.57 L225.81,122.36 L227.02,121.16 L228.24,119.98 L229.45,118.80 L230.67,117.64 L231.88,116.49 L233.10,115.35 L234.32,114.22 L235.53,113.11 L236.75,112.01 L237.96,110.91 L239.18,109.84 L240.39,108.77 L241.61,107.71 L242.82,106.67 L244.04,105.64 L245.26,104.63 L246.47,103.62 L247.69,102.63 L248.90,101.65 L250.12,100.69 L251.33,99.73 L252.55,98.79 L253.76,97.86 L254.98,96.95 L256.20,96.05 L257.41,95.16 L258.63,94.29 L259.84,93.43 L261.06,92.58 L262.27,91.75 L263.49,90.93 L264.70,90.12 L265.92,89.33 L267.14,88.55 L268.35,87.78 L269.57,87.03 L270.78,86.29 L272.00,85.57 L273.21,84.86 L274.43,84.17 L275.64,83.48 L276.86,82.82 L278.08,82.17 L279.29,81.53 L280.51,80.90 L281.72,80.29 L282.94,79.70 L284.15,79.12 L285.37,78.55 L286.58,78.00 L287.80,77.46 L289.02,76.94 L290.23,76.43 L291.45,75.94 L292.66,75.46 L293.88,75.00 L295.09,74.55 L296.31,74.12 L297.52,73.70 L298.74,73.29 L299.96,72.90 L301.17,72.53 L302.39,72.17 L303.60,71.83 L304.82,71.50 L306.03,71.19 L307.25,70.89 L308.46,70.60 L309.68,70.33 L310.90,70.08 L312.11,69.84 L313.33,69.62 L314.54,69.41 L315.76,69.22 L316.97,69.04 L318.19,68.88 L319.40,68.74 L320.62,68.60 L321.84,68.49 L323.05,68.39 L324.27,68.30 L325.48,68.23 L326.70,68.18 L327.91,68.14 L329.13,68.12 L330.34,68.11 L331.56,68.11 L332.78,68.14 L333.99,68.17 L335.21,68.23 L336.42,68.29 L337.64,68.38 L338.85,68.47 L340.07,68.59 L341.28,68.72 L342.50,68.86 L343.72,69.02 L344.93,69.20 L346.15,69.39 L347.36,69.59 L348.58,69.81 L349.79,70.05 L351.01,70.30 L352.22,70.57 L353.44,70.85 L354.66,71.14 L355.87,71.45 L357.09,71.78 L358.30,72.12 L359.52,72.48 L360.73,72.85 L361.95,73.24 L363.16,73.64 L364.38,74.05 L365.60,74.48 L366.81,74.93 L368.03,75.39 L369.24,75.87 L370.46,76.36 L371.67,76.86 L372.89,77.38 L374.10,77.91 L375.32,78.46 L376.54,79.02 L377.75,79.60 L378.97,80.19 L380.18,80.80 L381.40,81.42 L382.61,82.05 L383.83,82.70 L385.04,83.37 L386.26,84.04 L387.48,84.73 L388.69,85.44 L389.91,86.16 L391.12,86.89 L392.34,87.64 L393.55,88.40 L394.77,89.17 L395.98,89.96 L397.20,90.76 L398.42,91.58 L399.63,92.41 L400.85,93.25 L402.06,94.11 L403.28,94.97 L404.49,95.86 L405.71,96.75 L406.92,97.66 L408.14,98.58 L409.36,99.51 L410.57,100.46 L411.79,101.42 L413.00,102.39 L414.22,103.38 L415.43,104.38 L416.65,105.39 L417.86,106.41 L419.08,107.45 L420.30,108.49 L421.51,109.55 L422.73,110.62 L423.94,111.71 L425.16,112.80 L426.37,113.91 L427.59,115.03 L428.80,116.16 L430.02,117.30 L431.24,118.46 L432.45,119.62 L433.67,120.80 L434.88,121.99 L436.10,123.18 L437.31,124.39 L438.53,125.62 L439.74,126.85 L440.96,128.09 L442.18,129.34 L443.39,130.61 L444.61,131.88 L445.82,133.17 L447.04,134.46 L448.25,135.77 L449.47,137.08 L450.68,138.41 L451.90,139.74 L453.12,141.09 L454.33,142.44 L455.55,143.80 L456.76,145.18 L457.98,146.56 L459.19,147.95 L460.41,149.35 L461.62,150.76 L462.84,152.18 L464.06,153.61 L465.27,155.05 L466.49,156.49 L467.70,157.95 L468.92,159.41 L470.13,160.88 L471.35,162.36 L472.56,163.84 L473.78,165.34 L475.00,166.84 L476.21,168.35 L477.43,169.87 L478.64,171.39 L479.86,172.92 L481.07,174.46 L482.29,176.01 L483.50,177.56 L484.72,179.13 L485.94,180.69 L487.15,182.27 L488.37,183.85 L489.58,185.43 L490.80,187.03 L492.01,188.63 L493.23,190.23 L494.44,191.84 L495.66,193.46 L496.88,195.08 L498.09,196.71 L499.31,198.34 L500.52,199.98 L501.74,201.62 L502.95,203.27 L504.17,204.93 L505.38,206.59 L506.60,208.25 L507.82,209.92 L509.03,211.59 L510.25,213.26 L511.46,214.94 L512.68,216.63 L513.89,218.32 L515.11,220.01 L516.32,221.70 L517.54,223.40 L518.76,225.11 L519.97,226.81 L521.19,228.52 L522.40,230.23 L523.62,231.95 L524.83,233.66 L526.05,235.38 L527.26,237.11 L528.48,238.83 L529.70,240.56 L530.91,242.29 L532.13,244.02 L533.34,245.75 L534.56,247.48 L535.77,249.22 L536.99,250.95 L538.20,252.69 L539.42,254.43 L540.64,256.17 L541.85,257.91 L543.07,259.65 L544.28,261.40 L545.50,263.14 L546.71,264.88 L547.93,266.63 L549.14,268.37 L550.36,270.11 L551.58,271.85 L552.79,273.60 L554.01,275.34 L555.22,277.08 L556.44,278.82 L557.65,280.56 L558.87,282.30 L560.08,284.04 L561.30,285.77 L562.52,287.51 L563.73,289.24 L564.95,290.97 L566.16,292.70 L567.38,294.43 L568.59,296.15 L569.81,297.88 L571.02,299.60 L572.24,301.32 L573.46,303.03 L574.67,304.75 L575.89,306.46 L577.10,308.16 L578.32,309.87 L579.53,311.57 L580.75,313.27 L581.96,314.96 L583.18,316.65 L584.40,318.34 L585.61,320.02 L586.83,321.70 L588.04,323.37 L589.26,325.04 L590.47,326.71 L591.69,328.37 L592.90,330.02 L594.12,331.67 L595.34,333.32 L596.55,334.96 L597.77,336.60 L598.98,338.23 L600.20,339.85 L601.41,341.47 L602.63,343.09 L603.84,344.70 L605.06,346.30 L606.28,347.89 L607.49,349.48 L608.71,351.07 L609.92,352.64 L611.14,354.21 L612.35,355.78 L613.57,357.34 L614.78,358.89 L616.00,360.43 L617.22,361.96 L618.43,363.49 L619.65,365.01 L620.86,366.53 L622.08,368.03 L623.29,369.53 L624.51,371.02 L625.72,372.51 L626.94,373.98 L628.16,375.45 L629.37,376.90 L630.59,378.35 L631.80,379.80 L633.02,381.23 L634.23,382.65 L635.45,384.07 L636.66,385.47 L637.88,386.87 L639.10,388.26 L640.31,389.63 L641.53,391.00 L642.74,392.36 L643.96,393.71 L645.17,395.05 L646.39,396.38 L647.60,397.70 L648.82,399.01 L650.04,400.31 L651.25,401.60 L652.47,402.88 L653.68,404.15 L654.90,405.41 L656.11,406.66 L657.33,407.90 L658.54,409.12 L659.76,410.34 L660.98,411.54 L662.19,412.74 L663.41,413.92 L664.62,415.09 L665.84,416.25 L667.05,417.40 L668.27,418.53 L669.48,419.66 L670.70,420.77 L671.92,421.87 L673.13,422.96 L674.35,424.04 L675.56,425.11 L676.78,426.16 L677.99,427.20 L679.21,428.23 L680.42,429.25 L681.64,430.25 L682.86,431.24 L684.07,432.22 L685.29,433.19 L686.50,434.14 L687.72,435.08 L688.93,436.01 L690.15,436.93 L691.36,437.83 L692.58,438.72 L693.80,439.59 L695.01,440.46 L696.23,441.31 L697.44,442.14 L698.66,442.96 L699.87,443.77 L701.09,444.57 L702.30,445.35 L703.52,446.12 L704.74,446.87 L705.95,447.61 L707.17,448.34 L708.38,449.05 L709.60,449.75 L710.81,450.44 L712.03,451.11 L713.24,451.76 L714.46,452.40 L715.68,453.03 L716.89,453.65 L718.11,454.25 L719.32,454.83 L720.54,455.40 L721.75,455.96 L722.97,456.50 L724.18,457.03 L725.40,457.54 L726.62,458.04 L727.83,458.52 L729.05,458.99 L730.26,459.44 L731.48,459.88 L732.69,460.31 L733.91,460.72 L735.12,461.11 L736.34,461.49 L737.56,461.85 L738.77,462.20 L739.99,462.54 L741.20,462.86 L742.42,463.16 L743.63,463.45 L744.85,463.73 L746.06,463.99 L747.28,464.23 L748.50,464.46 L749.71,464.67 L750.93,464.87 L752.14,465.06 L753.36,465.22 L754.57,465.38 L755.79,465.51 L757.00,465.64 L758.22,465.74 L759.44,465.84 L760.65,465.91 L761.87,465.97 L763.08,466.02 L764.30,466.05 L765.51,466.07 L766.73,466.07 L767.94,466.05 L769.16,466.02 L770.38,465.98 L771.59,465.92 L772.81,465.84 L774.02,465.75 L775.24,465.64 L776.45,465.52 L777.67,465.38 L778.88,465.23 L780.10,465.06 L781.32,464.88 L782.53,464.68 L783.75,464.46 L784.96,464.24 L786.18,463.99 L787.39,463.73 L788.61,463.46 L789.82,463.17 L791.04,462.86 L792.26,462.55 L793.47,462.21 L794.69,461.86 L795.90,461.50 L797.12,461.12 L798.33,460.72 L799.55,460.31 L800.76,459.89 L801.98,459.45 L803.20,458.99 L804.41,458.53 L805.63,458.04 L806.84,457.54 L808.06,457.03 L809.27,456.50 L810.49,455.96 L811.70,455.40 L812.92,454.83 L814.14,454.25 L815.35,453.65 L816.57,453.03 L817.78,452.40 L819.00,451.76 L820.21,451.10 L821.43,450.43 L822.64,449.74 L823.86,449.04 L825.08,448.33 L826.29,447.60 L827.51,446.86 L828.72,446.10 L829.94,445.33 L831.15,444.55 L832.37,443.75 L833.58,442.94 L834.80,442.12 L836.02,441.28 L837.23,440.43 L838.45,439.56 L839.66,438.69 L840.88,437.80 L842.09,436.89 L843.31,435.97 L844.52,435.04 L845.74,434.10 L846.96,433.14 L848.17,432.17 L849.39,431.19 L850.60,430.19 L851.82,429.19 L853.03,428.17 L854.25,427.13 L855.46,426.09 L856.68,425.03 L857.90,423.96 L859.11,422.88 L860.33,421.79 L861.54,420.68 L862.76,419.56 L863.97,418.43 L865.19,417.29 L866.40,416.14 L867.62,414.97 L868.84,413.80 L870.05,412.61 L871.27,411.41 L872.48,410.20 L873.70,408.98 L874.91,407.75 L876.13,406.51 L877.34,405.25 L878.56,403.99 L879.78,402.71 L880.99,401.43 L882.21,400.13 L883.42,398.82 L884.64,397.51 L885.85,396.18 L887.07,394.84 L888.28,393.50 L889.50,392.14 L890.72,390.77 L891.93,389.40 L893.15,388.01 L894.36,386.62 L895.58,385.21 L896.79,383.80 L898.01,382.37 L899.22,380.94 L900.44,379.50 L901.66,378.05 L902.87,376.59 L904.09,375.13 L905.30,373.65 L906.52,372.17 L907.73,370.68 L908.95,369.18 L910.16,367.67 L911.38,366.15 L912.60,364.63 L913.81,363.10 L915.03,361.56 L916.24,360.01 L917.46,358.46 L918.67,356.90 L919.89,355.33 L921.10,353.75 L922.32,352.17 L923.54,350.58 L924.75,348.99 L925.97,347.39 L927.18,345.78 L928.40,344.16 L929.61,342.54 L930.83,340.92 L932.04,339.28 L933.26,337.65 L934.48,336.00 L935.69,334.35 L936.91,332.70 L938.12,331.04 L939.34,329.37 L940.55,327.70 L941.77,326.03 L942.98,324.35 L944.20,322.67 L945.42,320.98 L946.63,319.28 L947.85,317.59 L949.06,315.89 L950.28,314.18 L951.49,312.47 L952.71,310.76 L953.92,309.04 L955.14,307.32 L956.36,305.60 L957.57,303.87 L958.79,302.14 L960.00,300.41 L961.22,298.67 L962.43,296.94 L963.65,295.20 L964.86,293.45 L966.08,291.71 L967.30,289.96 L968.51,288.21 L969.73,286.46 L970.94,284.71 L972.16,282.95 L973.37,281.20 L974.59,279.44 L975.80,277.68 L977.02,275.92 L978.24,274.16 L979.45,272.40 L980.67,270.64 L981.88,268.87 L983.10,267.11 L984.31,265.35 L985.53,263.58 L986.74,261.82 L987.96,260.06 L989.18,258.29 L990.39,256.53 L991.61,254.77 L992.82,253.01 L994.04,251.24 L995.25,249.48 L996.47,247.73 L997.68,245.97 L998.90,244.21" stroke="#000" stroke-width="7.4" stroke-linecap="round"/>
</g>
<text transform="translate(59.19,23.06) scale(1.0380,1)" font-family="'Liberation Sans',sans-serif" font-weight="bold" font-size="27.38" fill="#000" stroke="#fff" stroke-width="0.15">1.2</text>
<text transform="translate(59.21,73.57) scale(1.0380,1)" font-family="'Liberation Sans',sans-serif" font-weight="bold" font-size="27.38" fill="#000" stroke="#fff" stroke-width="0.15">1.0</text>
<text transform="translate(58.93,124.08) scale(1.0379,1)" font-family="'Liberation Sans',sans-serif" font-weight="bold" font-size="27.38" fill="#000" stroke="#fff" stroke-width="0.15">0.8</text>
<text transform="translate(59.08,174.59) scale(1.0379,1)" font-family="'Liberation Sans',sans-serif" font-weight="bold" font-size="27.38" fill="#000" stroke="#fff" stroke-width="0.15">0.6</text>
<text transform="translate(58.21,225.09) scale(1.0378,1)" font-family="'Liberation Sans',sans-serif" font-weight="bold" font-size="27.38" fill="#000" stroke="#fff" stroke-width="0.15">0.4</text>
<text transform="translate(59.19,275.60) scale(1.0379,1)" font-family="'Liberation Sans',sans-serif" font-weight="bold" font-size="27.38" fill="#000" stroke="#fff" stroke-width="0.15">0.2</text>
<text transform="translate(59.22,326.11) scale(1.0379,1)" font-family="'Liberation Sans',sans-serif" font-weight="bold" font-size="27.38" fill="#000" stroke="#fff" stroke-width="0.15">0.0</text>
<text transform="translate(49.75,376.62) scale(1.0372,1)" font-family="'Liberation Sans',sans-serif" font-weight="bold" font-size="27.38" fill="#000" stroke="#fff" stroke-width="0.15">-0.2</text>
<text transform="translate(48.77,427.13) scale(1.0372,1)" font-family="'Liberation Sans',sans-serif" font-weight="bold" font-size="27.38" fill="#000" stroke="#fff" stroke-width="0.15">-0.4</text>
<text transform="translate(49.64,477.64) scale(1.0372,1)" font-family="'Liberation Sans',sans-serif" font-weight="bold" font-size="27.38" fill="#000" stroke="#fff" stroke-width="0.15">-0.6</text>
<text transform="translate(49.49,528.14) scale(1.0372,1)" font-family="'Liberation Sans',sans-serif" font-weight="bold" font-size="27.38" fill="#000" stroke="#fff" stroke-width="0.15">-0.8</text>
<text transform="translate(49.78,578.65) scale(1.0372,1)" font-family="'Liberation Sans',sans-serif" font-weight="bold" font-size="27.38" fill="#000" stroke="#fff" stroke-width="0.15">-1.0</text>
<text transform="translate(49.75,629.16) scale(1.0372,1)" font-family="'Liberation Sans',sans-serif" font-weight="bold" font-size="27.38" fill="#000" stroke="#fff" stroke-width="0.15">-1.2</text>
<text transform="translate(115.99,677.06) scale(1.1073,1)" font-family="'Liberation Sans',sans-serif" font-weight="bold" font-size="27.38" fill="#000" stroke="#fff" stroke-width="0.15">0</text>
<text transform="translate(181.29,677.06) scale(1.0666,1)" font-family="'Liberation Sans',sans-serif" font-weight="bold" font-size="27.38" fill="#000" stroke="#fff" stroke-width="0.15">30</text>
<text transform="translate(253.74,677.06) scale(1.0807,1)" font-family="'Liberation Sans',sans-serif" font-weight="bold" font-size="27.38" fill="#000" stroke="#fff" stroke-width="0.15">60</text>
<text transform="translate(326.67,677.06) scale(1.0787,1)" font-family="'Liberation Sans',sans-serif" font-weight="bold" font-size="27.38" fill="#000" stroke="#fff" stroke-width="0.15">90</text>
<text transform="translate(391.49,677.06) scale(1.0532,1)" font-family="'Liberation Sans',sans-serif" font-weight="bold" font-size="27.38" fill="#000" stroke="#fff" stroke-width="0.15">120</text>
<text transform="translate(464.36,677.06) scale(1.0532,1)" font-family="'Liberation Sans',sans-serif" font-weight="bold" font-size="27.38" fill="#000" stroke="#fff" stroke-width="0.15">150</text>
<text transform="translate(537.22,677.06) scale(1.0532,1)" font-family="'Liberation Sans',sans-serif" font-weight="bold" font-size="27.38" fill="#000" stroke="#fff" stroke-width="0.15">180</text>
<text transform="translate(610.92,677.06) scale(1.0345,1)" font-family="'Liberation Sans',sans-serif" font-weight="bold" font-size="27.38" fill="#000" stroke="#fff" stroke-width="0.15">210</text>
<text transform="translate(683.79,677.06) scale(1.0345,1)" font-family="'Liberation Sans',sans-serif" font-weight="bold" font-size="27.38" fill="#000" stroke="#fff" stroke-width="0.15">240</text>
<text transform="translate(756.66,677.06) scale(1.0345,1)" font-family="'Liberation Sans',sans-serif" font-weight="bold" font-size="27.38" fill="#000" stroke="#fff" stroke-width="0.15">270</text>
<text transform="translate(829.86,677.06) scale(1.0270,1)" font-family="'Liberation Sans',sans-serif" font-weight="bold" font-size="27.38" fill="#000" stroke="#fff" stroke-width="0.15">300</text>
<text transform="translate(902.73,677.06) scale(1.0270,1)" font-family="'Liberation Sans',sans-serif" font-weight="bold" font-size="27.38" fill="#000" stroke="#fff" stroke-width="0.15">330</text>
<text transform="translate(975.59,677.06) scale(1.0270,1)" font-family="'Liberation Sans',sans-serif" font-weight="bold" font-size="27.38" fill="#000" stroke="#fff" stroke-width="0.15">360</text>
<text fill="#000"><tspan x="364.97" y="714.78" font-family="'Liberation Sans',sans-serif" font-weight="bold" font-size="26.69" textLength="84.17" lengthAdjust="spacingAndGlyphs" stroke="#fff" stroke-width="0.2">Model</tspan> <tspan x="456.07" y="714.78" font-family="'Liberation Sans',sans-serif" font-weight="bold" font-size="26.69" textLength="143.23" lengthAdjust="spacingAndGlyphs" stroke="#fff" stroke-width="0.2">Integration</tspan> <tspan x="607.12" y="714.78" font-family="'Liberation Sans',sans-serif" font-weight="bold" font-size="26.69" textLength="61.86" lengthAdjust="spacingAndGlyphs" stroke="#fff" stroke-width="0.2">Time</tspan> <tspan x="677.35" y="714.78" font-family="'Liberation Sans',sans-serif" font-weight="bold" font-size="26.69" textLength="81.05" lengthAdjust="spacingAndGlyphs" stroke="#fff" stroke-width="0.2">(Days)</tspan></text>
<text fill="#ff0000"><tspan x="274.51" y="53.00" font-family="'Liberation Sans',sans-serif" font-weight="bold" font-size="26.89" textLength="116.25" lengthAdjust="spacingAndGlyphs">FORCING</tspan> <tspan x="398.39" y="53.00" font-family="'Liberation Sans',sans-serif" font-weight="bold" font-size="26.89" textLength="39.43" lengthAdjust="spacingAndGlyphs">(N)</tspan></text>
<text fill="#008000"><tspan x="492.79" y="97.60" font-family="'Liberation Sans',sans-serif" font-weight="bold" font-size="26.60" textLength="31.99" lengthAdjust="spacingAndGlyphs">10</tspan><tspan x="526.12" y="97.62" font-family="'Liberation Sans',sans-serif" font-weight="bold" font-size="28.22" textLength="11.11" lengthAdjust="spacingAndGlyphs">*</tspan><tspan x="538.93" y="97.20" font-family="'Liberation Serif',serif" font-weight="normal" font-size="29.24" textLength="19.72" lengthAdjust="spacingAndGlyphs">Δ</tspan><tspan x="560.63" y="97.60" font-family="'Liberation Sans',sans-serif" font-weight="bold" font-size="26.60" textLength="14.63" lengthAdjust="spacingAndGlyphs">T</tspan></text>
<text fill="#000"><tspan x="381.00" y="211.68" font-family="'Liberation Sans',sans-serif" font-weight="bold" font-size="34.97" textLength="66.23" lengthAdjust="spacingAndGlyphs" stroke="#fff" stroke-width="0.2">NET</tspan></text>
<text fill="#000"><tspan x="335.08" y="261.68" font-family="'Liberation Sans',sans-serif" font-weight="bold" font-size="34.97" textLength="129.93" lengthAdjust="spacingAndGlyphs" stroke="#fff" stroke-width="0.2">(forcing</tspan> <tspan x="473.06" y="263.23" font-family="'Liberation Sans',sans-serif" font-weight="bold" font-size="28.36" textLength="20.03" lengthAdjust="spacingAndGlyphs">+</tspan></text>
<text fill="#000"><tspan x="345.43" y="312.28" font-family="'Liberation Sans',sans-serif" font-weight="bold" font-size="34.97" textLength="150.32" lengthAdjust="spacingAndGlyphs" stroke="#fff" stroke-width="0.2">feedback</tspan><tspan x="499.39" y="312.28" font-family="'Liberation Sans',sans-serif" font-weight="bold" font-size="34.97" textLength="9.04" lengthAdjust="spacingAndGlyphs" stroke="#fff" stroke-width="0.2">)</tspan></text>
<text fill="#0000ff"><tspan x="321.01" y="405.70" font-family="'Liberation Sans',sans-serif" font-weight="bold" font-size="26.45" textLength="132.21" lengthAdjust="spacingAndGlyphs">FEEDBACK</tspan> <tspan x="460.99" y="405.70" font-family="'Liberation Sans',sans-serif" font-weight="bold" font-size="26.45" textLength="6.73" lengthAdjust="spacingAndGlyphs">(</tspan><tspan x="469.69" y="404.96" font-family="'Liberation Sans',sans-serif" font-weight="bold" font-size="21.82" textLength="9.44" lengthAdjust="spacingAndGlyphs">-</tspan><tspan x="480.39" y="405.00" font-family="'Liberation Serif',serif" font-weight="normal" font-size="28.26" textLength="16.69" lengthAdjust="spacingAndGlyphs">λ</tspan><tspan x="497.64" y="405.70" font-family="'Liberation Sans',sans-serif" font-weight="bold" font-size="26.45" textLength="14.00" lengthAdjust="spacingAndGlyphs">T</tspan><tspan x="513.98" y="405.70" font-family="'Liberation Sans',sans-serif" font-weight="bold" font-size="26.45" textLength="6.96" lengthAdjust="spacingAndGlyphs">)</tspan></text>
<g transform="translate(37.1,539.5) rotate(-90)">
<text fill="#000"><tspan x="-1.84" y="0.08" font-family="'Liberation Sans',sans-serif" font-weight="bold" font-size="27.27" textLength="116.92" lengthAdjust="spacingAndGlyphs" stroke="#fff" stroke-width="0.2">Radiative</tspan> <tspan x="123.88" y="0.08" font-family="'Liberation Sans',sans-serif" font-weight="bold" font-size="27.27" textLength="50.28" lengthAdjust="spacingAndGlyphs" stroke="#fff" stroke-width="0.2">Flux</tspan> <tspan x="179.15" y="0.08" font-family="'Liberation Sans',sans-serif" font-weight="bold" font-size="27.27" textLength="9.16" lengthAdjust="spacingAndGlyphs" stroke="#fff" stroke-width="0.2">(</tspan><tspan x="189.49" y="0.08" font-family="'Liberation Sans',sans-serif" font-weight="bold" font-size="27.27" textLength="27.92" lengthAdjust="spacingAndGlyphs" stroke="#fff" stroke-width="0.2">W</tspan> <tspan x="225.65" y="0.08" font-family="'Liberation Sans',sans-serif" font-weight="bold" font-size="27.27" textLength="23.90" lengthAdjust="spacingAndGlyphs" stroke="#fff" stroke-width="0.2">m</tspan><tspan x="249.94" y="-14.62" font-family="'Liberation Sans',sans-serif" font-weight="bold" font-size="18.27" textLength="15.54" lengthAdjust="spacingAndGlyphs" stroke="#fff" stroke-width="0.2">-2</tspan><tspan x="267.90" y="0.08" font-family="'Liberation Sans',sans-serif" font-weight="bold" font-size="27.27" textLength="7.62" lengthAdjust="spacingAndGlyphs" stroke="#fff" stroke-width="0.2">)</tspan> <tspan x="281.99" y="0.08" font-family="'Liberation Sans',sans-serif" font-weight="bold" font-size="27.27" textLength="28.82" lengthAdjust="spacingAndGlyphs" stroke="#fff" stroke-width="0.2">or</tspan> <tspan x="316.97" y="0.08" font-family="'Liberation Sans',sans-serif" font-weight="bold" font-size="27.27" textLength="30.95" lengthAdjust="spacingAndGlyphs" stroke="#fff" stroke-width="0.2">10</tspan><tspan x="348.63" y="0.08" font-family="'Liberation Sans',sans-serif" font-weight="bold" font-size="27.27" textLength="11.68" lengthAdjust="spacingAndGlyphs" stroke="#fff" stroke-width="0.2">*</tspan><tspan x="361.13" y="0.00" font-family="'Liberation Serif',serif" font-weight="normal" font-size="28.18" textLength="19.83" lengthAdjust="spacingAndGlyphs">Δ</tspan><tspan x="380.91" y="0.08" font-family="'Liberation Sans',sans-serif" font-weight="bold" font-size="27.27" textLength="16.97" lengthAdjust="spacingAndGlyphs" stroke="#fff" stroke-width="0.2">T</tspan> <tspan x="402.19" y="0.08" font-family="'Liberation Sans',sans-serif" font-weight="bold" font-size="27.27" textLength="8.92" lengthAdjust="spacingAndGlyphs" stroke="#fff" stroke-width="0.2">(</tspan><tspan x="412.05" y="-15.22" font-family="'Liberation Sans',sans-serif" font-weight="bold" font-size="17.95" textLength="12.11" lengthAdjust="spacingAndGlyphs" stroke="#fff" stroke-width="0.2">o</tspan><tspan x="424.41" y="0.08" font-family="'Liberation Sans',sans-serif" font-weight="bold" font-size="27.27" textLength="16.08" lengthAdjust="spacingAndGlyphs" stroke="#fff" stroke-width="0.2">C</tspan><tspan x="440.79" y="0.08" font-family="'Liberation Sans',sans-serif" font-weight="bold" font-size="27.27" textLength="8.68" lengthAdjust="spacingAndGlyphs" stroke="#fff" stroke-width="0.2">)</tspan></text>
</g>
</svg>
</body></html>
